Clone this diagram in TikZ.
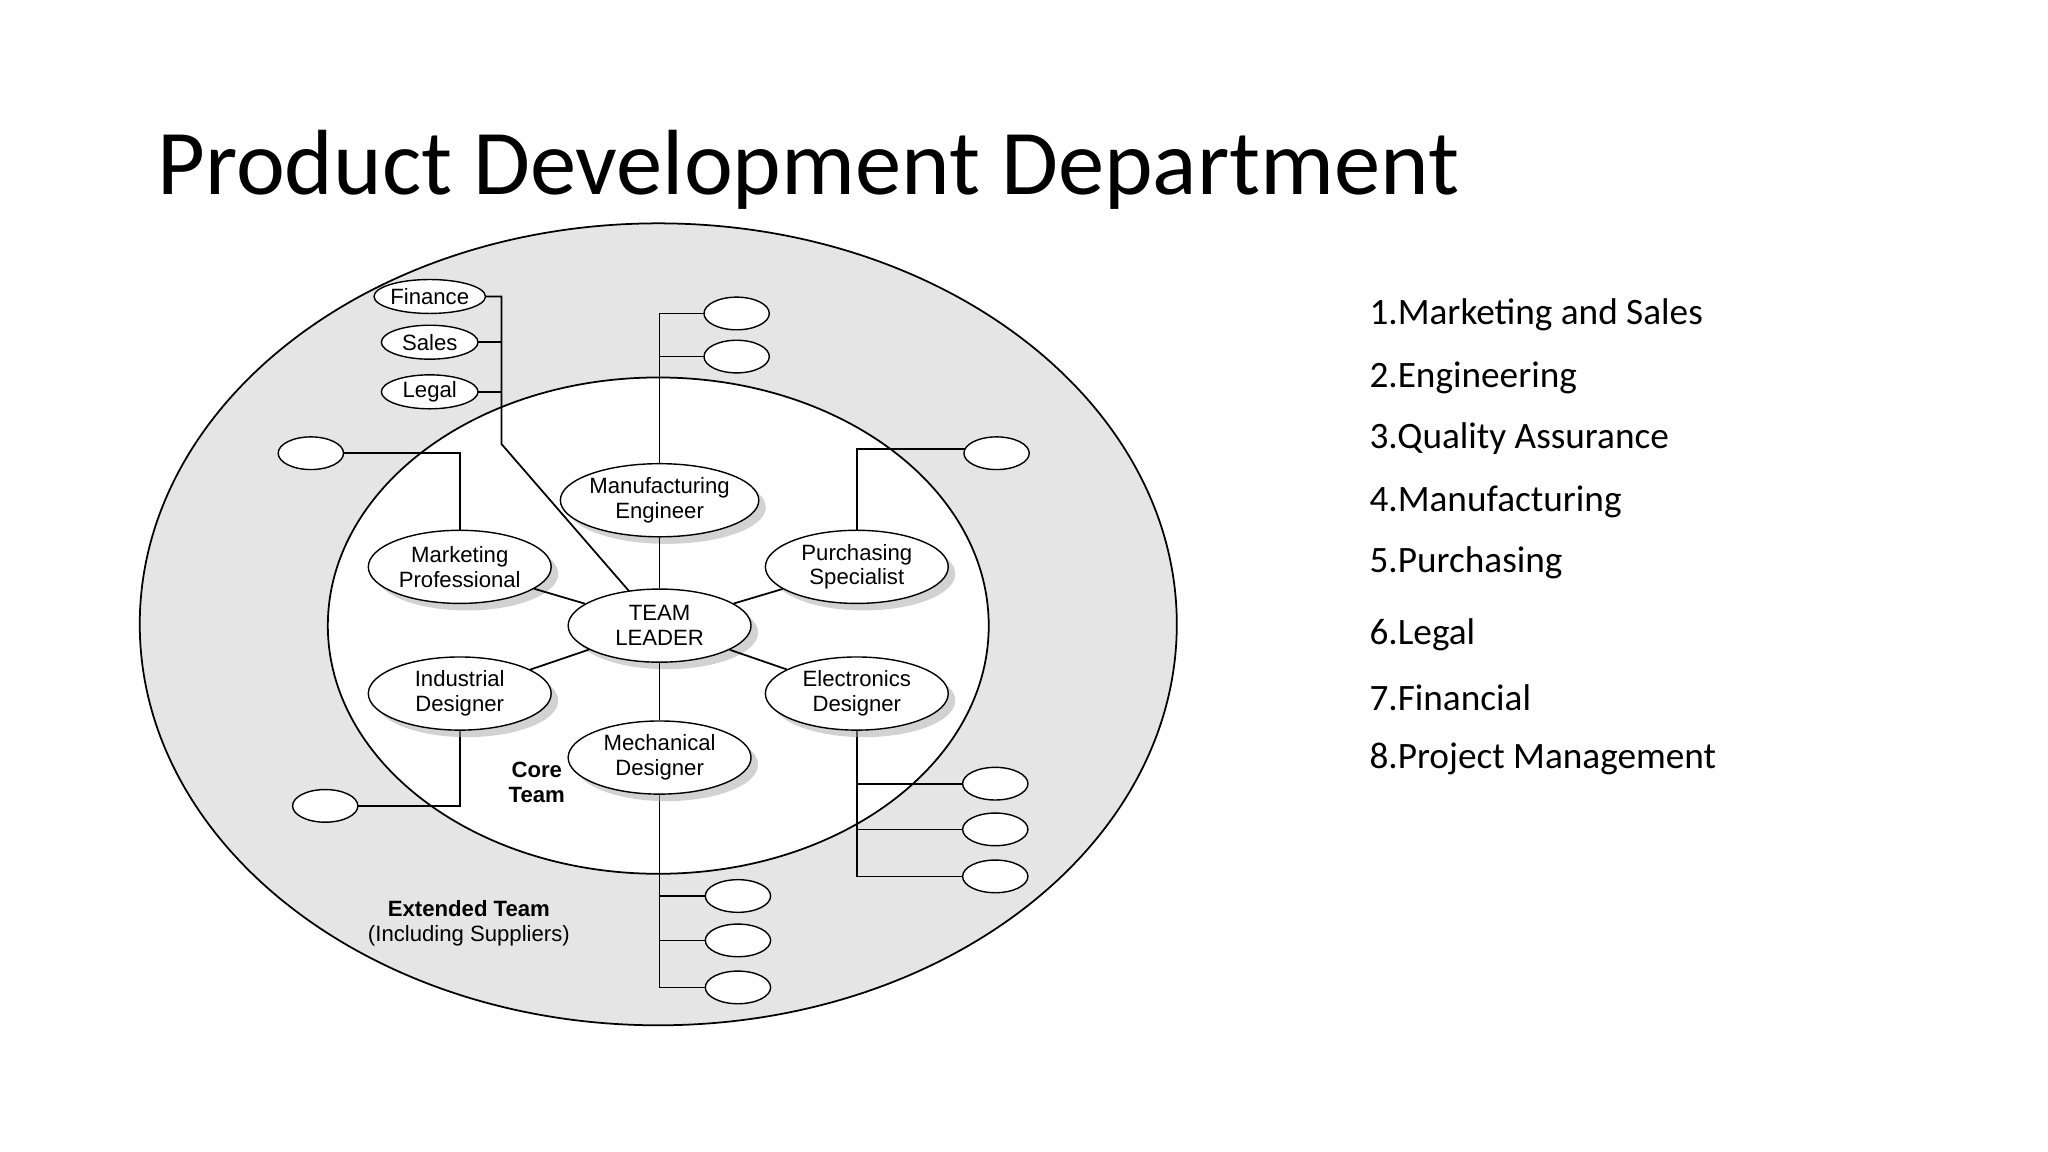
\documentclass[tikz,border=0pt]{standalone}
\usepackage{fontspec}
\setmainfont{Carlito}
\newfontfamily\diag{Liberation Sans}
\usetikzlibrary{shapes.geometric,shadows}
\begin{document}
\begin{tikzpicture}[x=0.013061cm,y=-0.013061cm,
  role/.style={ellipse,draw,fill=white,inner sep=0pt,minimum width=140\unitpx,minimum height=56\unitpx,
    font=\diag\fontsize{6.3}{7}\selectfont,align=center,drop shadow={shadow xshift=2pt,shadow yshift=-2pt,fill=gray!70}},
  small/.style={ellipse,draw,fill=white,inner sep=0pt,minimum width=50\unitpx,minimum height=25\unitpx},
  dept/.style={ellipse,draw,fill=white,inner sep=0pt,minimum width=74\unitpx,minimum height=26\unitpx,font=\diag\fontsize{6.3}{7}\selectfont},
  ln/.style={draw,line width=0.5pt},
  item/.style={anchor=west,font=\fontsize{10.6}{12}\selectfont,inner sep=0pt}]
\def\unitpx{*0.013061cm}
\useasboundingbox (0,0) rectangle (1568,882);
\fill[white] (0,0) rectangle (1568,882);
\node[anchor=west,inner sep=0pt] (title) at (120,130) {\resizebox{13.02cm}{!}{\fontsize{30}{34}\selectfont Product Development Department}};
% circles
\draw[fill=gray!20,line width=0.5pt] (504,478) ellipse [x radius=397,y radius=307];
\draw[fill=white,line width=0.5pt] (504,479) ellipse [x radius=253,y radius=190];
% coordinates
\coordinate (fv1) at (384,227);
\coordinate (fv2) at (384,340);
\coordinate (mev) at (505,240);
\coordinate (me2) at (505,273);
\coordinate (mpc) at (352,347);
\coordinate (psc) at (656,344);
\coordinate (idc) at (352,617);
\coordinate (ed1) at (656,600);
\coordinate (ed2) at (656,635);
\coordinate (ed3) at (656,671);
\coordinate (md1) at (505,686);
\coordinate (md2) at (505,720);
\coordinate (md3) at (505,756);
% lines drawn first
\draw[ln] (329,227) -- (fv1) -- (fv2) -- (482,453);
\draw[ln] (329,262) -- (384,262);
\draw[ln] (329,300) -- (384,300);
\draw[ln] (505,383) -- (mev) -- (564,240);
\draw[ln] (me2) -- (564,273);
\draw[ln] (352,434) -- (mpc) -- (238,347);
\draw[ln] (656,434) -- (psc) -- (763,344);
\draw[ln] (352,531) -- (idc) -- (249,617);
\draw[ln] (656,531) -- (ed3) -- (762,671);
\draw[ln] (ed1) -- (762,600);
\draw[ln] (ed2) -- (762,635);
\draw[ln] (505,580) -- (md3) -- (565,756);
\draw[ln] (md1) -- (565,686);
\draw[ln] (md2) -- (565,720);
% nodes
\node[role] (tl) at (505,479) {TEAM\\LEADER};
\node[role] (me) at (505,383) {Manufacturing\\Engineer};
\node[role] (mp) at (352,434) {Marketing\\Professional};
\node[role] (ps) at (656,434) {Purchasing\\Specialist};
\node[role] (id) at (352,531) {Industrial\\Designer};
\node[role] (ed) at (656,531) {Electronics\\Designer};
\node[role] (md) at (505,580) {Mechanical\\Designer};
\draw[ln] (tl) -- (me); \draw[ln] (tl) -- (md);
\draw[ln] (tl) -- (mp); \draw[ln] (tl) -- (ps);
\draw[ln] (tl) -- (id); \draw[ln] (tl) -- (ed);
\node[dept] (fin) at (329,227) {Finance};
\node[dept] (sal) at (329,262) {Sales};
\node[dept] (leg) at (329,300) {Legal};
\node[small] (s1) at (564,240) {};
\node[small] (s2) at (564,273) {};
\node[small] (s3) at (238,347) {};
\node[small] (s4) at (763,347) {};
\node[small] (s5) at (249,617) {};
\node[small] (s6) at (762,600) {};
\node[small] (s7) at (762,635) {};
\node[small] (s8) at (762,671) {};
\node[small] (s9) at (565,686) {};
\node[small] (s10) at (565,720) {};
\node[small] (s11) at (565,756) {};
\node[font=\diag\bfseries\fontsize{6.3}{7.2}\selectfont,align=center] (core) at (411,599) {Core\\Team};
\node[font=\diag\fontsize{6.3}{7.2}\selectfont,align=center] (ext) at (359,707) {\textbf{Extended Team}\\(Including Suppliers)};
% list
\node[item] (l1) at (1048,241) {1.Marketing and Sales};
\node[item] (l2) at (1048,289) {2.Engineering};
\node[item] (l3) at (1048,336) {3.Quality Assurance};
\node[item] (l4) at (1048,384) {4.Manufacturing};
\node[item] (l5) at (1048,431) {5.Purchasing};
\node[item] (l6) at (1048,486) {6.Legal};
\node[item] (l7) at (1048,534) {7.Financial};
\node[item] (l8) at (1048,581) {8.Project Management};
\end{tikzpicture}
\end{document}
